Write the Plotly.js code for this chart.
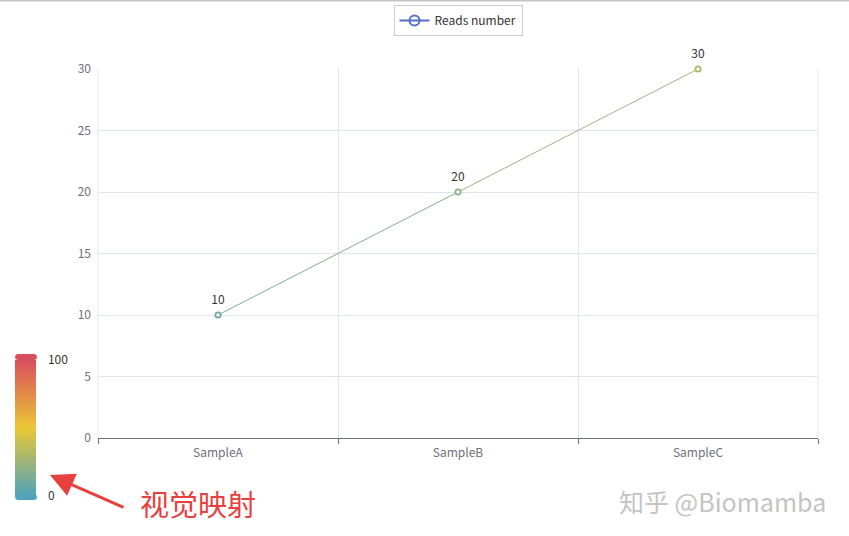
<!DOCTYPE html>
<html>
<head>
<meta charset="utf-8">
<script src="https://cdn.plot.ly/plotly-3.0.1.min.js"></script>
<style>
  html, body { margin: 0; padding: 0; background: #fff; }
  #chart { width: 849px; height: 536px; }
</style>
</head>
<body>
<div id="chart"></div>
<script>
// chart values
const samples = ["SampleA", "SampleB", "SampleC"];
const reads = [10, 20, 30];
const seriesName = "Reads number";
const mapMin = 0;
const mapMax = 100;

// echarts-like visualMap colours
const mapStops = [[0, "#50a3ba"], [0.5, "#eac736"], [1, "#d94e5d"]];
const fontFam = "'Noto Sans CJK SC', 'Noto Sans', sans-serif";

const hexToRgb = h => [1, 3, 5].map(i => parseInt(h.slice(i, i + 2), 16));
const colorAt = (v) => {
    const t = Math.max(0, Math.min(1, (v - mapMin) / (mapMax - mapMin)));
    for (let i = 1; i < mapStops.length; i++) {
        if (t <= mapStops[i][0]) {
            const [t0, c0] = mapStops[i - 1];
            const [t1, c1] = mapStops[i];
            const f = (t - t0) / (t1 - t0);
            const a = hexToRgb(c0), b = hexToRgb(c1);
            return "rgb(" + a.map((x, k) => Math.round(x + (b[k] - x) * f)).join(",") + ")";
        }
    }
    return mapStops[mapStops.length - 1][1];
};

const idx = samples.map((_, i) => i);
const traces = [];

// line segments coloured by the visual map
for (let i = 0; i < reads.length - 1; i++) {
    traces.push({
        type: "scatter", mode: "lines",
        x: [idx[i], idx[i + 1]], y: [reads[i], reads[i + 1]],
        line: { color: colorAt((reads[i] + reads[i + 1]) / 2), width: 1 },
        cliponaxis: false, hoverinfo: "skip", showlegend: false
    });
}

const px = v => (v - 98) / 720;
const py = v => (438 - v) / 369;

// coloured dots + colour bar (the visual map)
traces.push({
    type: "scatter", mode: "markers",
    x: idx, y: reads, cliponaxis: false,
    marker: {
        size: 7, color: reads, cmin: mapMin, cmax: mapMax,
        colorscale: mapStops, showscale: true,
        colorbar: {
            xref: "container", x: 15 / 849, xanchor: "left",
            yref: "paper", y: py(428), yanchor: "middle",
            lenmode: "pixels", len: 136, thickness: 21,
            xpad: 0, ypad: 0, outlinewidth: 0,
            tickvals: [mapMin, mapMax], ticks: "outside", ticklen: 10,
            tickcolor: "rgba(0,0,0,0)",
            tickfont: { family: fontFam, size: 12, color: "#333" }
        }
    },
    showlegend: false, hoverinfo: "skip"
});

// white centres
traces.push({
    type: "scatter", mode: "markers",
    x: idx, y: reads, cliponaxis: false,
    marker: { size: 3.5, color: "#fff" },
    showlegend: false, hoverinfo: "skip"
});

// value labels
traces.push({
    type: "scatter", mode: "markers+text",
    x: idx, y: reads, cliponaxis: false,
    marker: { size: 12, color: "rgba(0,0,0,0)" },
    text: reads.map(String), textposition: "top center",
    textfont: { family: fontFam, size: 12, color: "#333" },
    showlegend: false, hoverinfo: "skip"
});

// legend entry
traces.push({
    type: "scatter", mode: "lines+markers",
    x: [null], y: [null], name: seriesName,
    line: { color: "#5470c6", width: 2 },
    marker: { symbol: "circle-open", size: 10, color: "#5470c6", line: { width: 2 } }
});

// boundary axis for split lines / ticks between categories
const bounds = samples.map((_, i) => i - 0.5).concat([samples.length - 0.5]);
traces.push({
    type: "scatter", mode: "markers", x: bounds, y: bounds.map(() => null),
    xaxis: "x2", showlegend: false, hoverinfo: "skip"
});

const pill = (cx, cy, color) => ({
    type: "path", xref: "paper", yref: "paper",
    xsizemode: "pixel", ysizemode: "pixel", xanchor: px(cx), yanchor: py(cy),
    path: "M -8,-3.5 L 8,-3.5 Q 11.5,-3.5 11.5,0 Q 11.5,3.5 8,3.5 L -8,3.5 Q -11.5,3.5 -11.5,0 Q -11.5,-3.5 -8,-3.5 Z",
    fillcolor: color, line: { color: "#fff", width: 1 }
});

const edge = x => ({
    type: "line", xref: "paper", yref: "paper", layer: "below",
    x0: x, x1: x, y0: 0, y1: 1, line: { color: "#e0e6f1", width: 1 }
});

const layout = {
    width: 849, height: 536,
    margin: { l: 98, r: 31, t: 69, b: 98 },
    paper_bgcolor: "#fff", plot_bgcolor: "#fff",
    font: { family: fontFam, size: 12, color: "#6e7079" },
    showlegend: true,
    legend: {
        orientation: "h", xref: "container", x: 458 / 849, xanchor: "center",
        yref: "container", y: 1 - 5 / 536, yanchor: "top",
        bordercolor: "#ccc", borderwidth: 1, bgcolor: "#fff",
        font: { family: fontFam, size: 12, color: "#333" }
    },
    xaxis: {
        range: [-0.5, samples.length - 0.5],
        tickvals: idx, ticktext: samples,
        showgrid: false, zeroline: false, ticks: "",
        showline: true, linecolor: "#6e7079", linewidth: 1,
        ticklabelstandoff: 4,
        tickfont: { color: "#6e7079", size: 12 }, fixedrange: true
    },
    xaxis2: {
        overlaying: "x", matches: "x", range: [-0.5, samples.length - 0.5],
        tickvals: bounds, showticklabels: false, ticks: "outside", ticklen: 5,
        tickcolor: "#6e7079", showgrid: true, gridcolor: "#e0e6f1", zeroline: false
    },
    yaxis: {
        range: [0, 30], dtick: 5, tick0: 0,
        gridcolor: "#e0e6f1", zeroline: false, showline: false, ticks: "",
        ticklabelstandoff: 6,
        tickfont: { color: "#6e7079", size: 12 }
    },
    shapes: [
        edge(0), edge(1),
        pill(26, 357, "#d94e5d"),
        pill(26, 497, "#50a3ba"),
        { type: "line", xref: "paper", yref: "paper",
          x0: px(0), x1: px(849), y0: py(0.5), y1: py(0.5),
          line: { color: "#c4c4c4", width: 2 } }
    ],
    annotations: [
        { xref: "paper", yref: "paper", x: px(50), y: py(475),
          text: "", showarrow: true, axref: "pixel", ayref: "pixel",
          ax: 75, ay: 33, arrowhead: 2, arrowsize: 1.6, arrowwidth: 3,
          arrowcolor: "#e8403f" },
        { xref: "paper", yref: "paper", x: px(198), y: py(503),
          xanchor: "center", yanchor: "middle",
          text: "视觉映射", showarrow: false,
          font: { family: fontFam, size: 29, color: "#e8403f" } },
        { xref: "paper", yref: "paper", x: px(722), y: py(501),
          xanchor: "center", yanchor: "middle",
          text: "知乎 @Biomamba", showarrow: false,
          font: { family: fontFam, size: 25, color: "#c4c4c4" } }
    ]
};

Plotly.newPlot("chart", traces, layout, { displayModeBar: false, staticPlot: true });
</script>
</body>
</html>
